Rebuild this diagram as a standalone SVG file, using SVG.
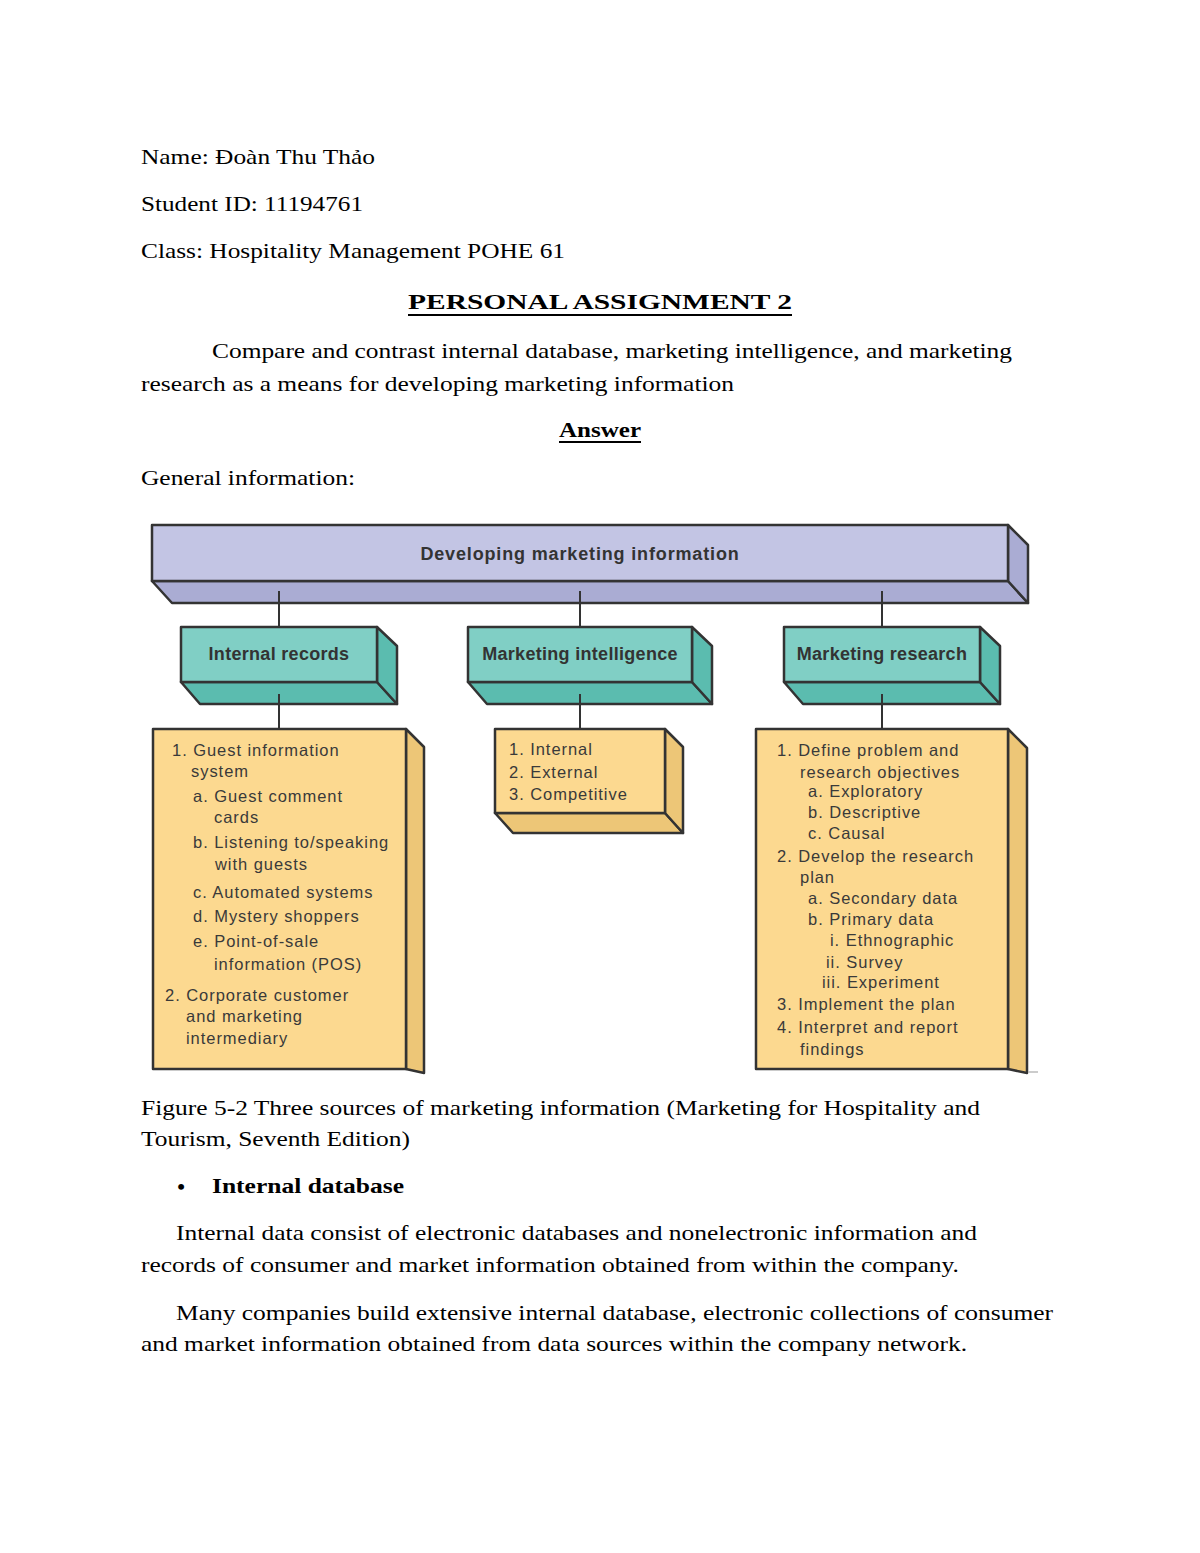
<svg xmlns="http://www.w3.org/2000/svg" width="1200" height="1553" viewBox="0 0 1200 1553">
<style>
.doc{font-family:"Liberation Serif","Times New Roman",serif;font-size:22px;fill:#000}
.docb{font-family:"Liberation Serif","Times New Roman",serif;font-size:22px;font-weight:bold;fill:#000}
.edge{stroke:#333;stroke-width:2.5;stroke-linejoin:round}
.pf{fill:#c3c5e4}.ps{fill:#aaacd3}
.tf{fill:#80cfc5}.ts{fill:#5bbcaf}
.yf{fill:#fcd990}.ys{fill:#edc677}
.hd{font-family:"Liberation Sans",Arial,sans-serif;font-size:18px;font-weight:bold;fill:#333;text-anchor:middle}
.t{font-family:"Liberation Sans",Arial,sans-serif;font-size:16.5px;letter-spacing:0.95px;fill:#3a3a3a}
.conn{stroke:#333;stroke-width:2;fill:none}
</style>
<rect width="1200" height="1553" fill="#fff"/>

<g id="header-text">
<text class="doc" x="141" y="164" textLength="234" lengthAdjust="spacingAndGlyphs">Name: Đoàn Thu Thảo</text>
<text class="doc" x="141" y="211" textLength="222" lengthAdjust="spacingAndGlyphs">Student ID: 11194761</text>
<text class="doc" x="141" y="258" textLength="424" lengthAdjust="spacingAndGlyphs">Class: Hospitality Management POHE 61</text>
<text class="docb" x="408" y="309" textLength="384" lengthAdjust="spacingAndGlyphs">PERSONAL ASSIGNMENT 2</text>
<line x1="408" y1="315" x2="792" y2="315" stroke="#000" stroke-width="1.8"/>
<text class="doc" x="212" y="358" textLength="800" lengthAdjust="spacingAndGlyphs">Compare and contrast internal database, marketing intelligence, and marketing</text>
<text class="doc" x="141" y="391" textLength="593" lengthAdjust="spacingAndGlyphs">research as a means for developing marketing information</text>
<text class="docb" x="559" y="437" textLength="82" lengthAdjust="spacingAndGlyphs">Answer</text>
<line x1="559" y1="442" x2="641" y2="442" stroke="#000" stroke-width="1.8"/>
<text class="doc" x="141" y="485" textLength="214" lengthAdjust="spacingAndGlyphs">General information:</text>
</g>

<g id="connectors">
<line class="conn" x1="279" y1="591" x2="279" y2="627"/>
<line class="conn" x1="580" y1="591" x2="580" y2="627"/>
<line class="conn" x1="882" y1="591" x2="882" y2="627"/>
<line class="conn" x1="279" y1="694" x2="279" y2="729"/>
<line class="conn" x1="580" y1="694" x2="580" y2="729"/>
<line class="conn" x1="882" y1="694" x2="882" y2="729"/>
</g>

<g id="node-developing">
<polygon class="ps edge" points="152,581 1008,581 1028,603 172,603"/>
<polygon class="ps edge" points="1008,525 1028,545 1028,603 1008,581"/>
<rect class="pf edge" x="152" y="525" width="856" height="56"/>
<line class="conn" x1="279" y1="591" x2="279" y2="603"/>
<line class="conn" x1="580" y1="591" x2="580" y2="603"/>
<line class="conn" x1="882" y1="591" x2="882" y2="603"/>
<text class="hd" x="580" y="560" letter-spacing="0.85">Developing marketing information</text>
</g>

<g id="node-internal-records">
<polygon class="ts edge" points="181,682 377,682 397,704 200,704"/>
<polygon class="ts edge" points="377,627 397,646 397,704 377,682"/>
<rect class="tf edge" x="181" y="627" width="196" height="55"/>
<line class="conn" x1="279" y1="694" x2="279" y2="704"/>
<text class="hd" x="279" y="660" letter-spacing="0.3">Internal records</text>
</g>

<g id="node-marketing-intelligence">
<polygon class="ts edge" points="468,682 692,682 712,704 487,704"/>
<polygon class="ts edge" points="692,627 712,646 712,704 692,682"/>
<rect class="tf edge" x="468" y="627" width="224" height="55"/>
<line class="conn" x1="580" y1="694" x2="580" y2="704"/>
<text class="hd" x="580" y="660" letter-spacing="0.3">Marketing intelligence</text>
</g>

<g id="node-marketing-research">
<polygon class="ts edge" points="784,682 980,682 1000,704 803,704"/>
<polygon class="ts edge" points="980,627 1000,646 1000,704 980,682"/>
<rect class="tf edge" x="784" y="627" width="196" height="55"/>
<line class="conn" x1="882" y1="694" x2="882" y2="704"/>
<text class="hd" x="882" y="660" letter-spacing="0.3">Marketing research</text>
</g>

<g id="node-internal-list">
<polygon class="ys edge" points="406,729 424,747 424,1073 406,1069"/>
<rect class="yf edge" x="153" y="729" width="253" height="340"/>
<text class="t" x="172" y="756">1. Guest information</text>
<text class="t" x="191" y="777">system</text>
<text class="t" x="193" y="802">a. Guest comment</text>
<text class="t" x="214" y="823">cards</text>
<text class="t" x="193" y="848">b. Listening to/speaking</text>
<text class="t" x="215" y="870">with guests</text>
<text class="t" x="193" y="898">c. Automated systems</text>
<text class="t" x="193" y="922">d. Mystery shoppers</text>
<text class="t" x="193" y="947">e. Point-of-sale</text>
<text class="t" x="214" y="970">information (POS)</text>
<text class="t" x="165" y="1001">2. Corporate customer</text>
<text class="t" x="186" y="1022">and marketing</text>
<text class="t" x="186" y="1044">intermediary</text>
</g>

<g id="node-intelligence-list">
<polygon class="ys edge" points="495,813 665,813 683,833 513,833"/>
<polygon class="ys edge" points="665,729 683,747 683,833 665,813"/>
<rect class="yf edge" x="495" y="729" width="170" height="84"/>
<text class="t" x="509" y="755">1. Internal</text>
<text class="t" x="509" y="778">2. External</text>
<text class="t" x="509" y="800">3. Competitive</text>
</g>

<g id="node-research-list">
<polygon class="ys edge" points="1008,729 1027,748 1027,1073 1008,1069"/>
<rect class="yf edge" x="756" y="729" width="252" height="340"/>
<line x1="1028" y1="1072" x2="1038" y2="1072" stroke="#bbb" stroke-width="1.5"/>
<text class="t" x="777" y="756">1. Define problem and</text>
<text class="t" x="800" y="778">research objectives</text>
<text class="t" x="808" y="797">a. Exploratory</text>
<text class="t" x="808" y="818">b. Descriptive</text>
<text class="t" x="808" y="839">c. Causal</text>
<text class="t" x="777" y="862">2. Develop the research</text>
<text class="t" x="800" y="883">plan</text>
<text class="t" x="808" y="904">a. Secondary data</text>
<text class="t" x="808" y="925">b. Primary data</text>
<text class="t" x="830" y="946">i. Ethnographic</text>
<text class="t" x="826" y="968">ii. Survey</text>
<text class="t" x="822" y="988">iii. Experiment</text>
<text class="t" x="777" y="1010">3. Implement the plan</text>
<text class="t" x="777" y="1033">4. Interpret and report</text>
<text class="t" x="800" y="1055">findings</text>
</g>

<g id="body-text">
<text class="doc" x="141" y="1115" textLength="839" lengthAdjust="spacingAndGlyphs">Figure 5-2 Three sources of marketing information (Marketing for Hospitality and</text>
<text class="doc" x="141" y="1146" textLength="269" lengthAdjust="spacingAndGlyphs">Tourism, Seventh Edition)</text>
<text class="docb" x="181" y="1194" font-size="38" text-anchor="middle">•</text>
<text class="docb" x="212" y="1193" textLength="192" lengthAdjust="spacingAndGlyphs">Internal database</text>
<text class="doc" x="176" y="1240" textLength="801" lengthAdjust="spacingAndGlyphs">Internal data consist of electronic databases and nonelectronic information and</text>
<text class="doc" x="141" y="1272" textLength="818" lengthAdjust="spacingAndGlyphs">records of consumer and market information obtained from within the company.</text>
<text class="doc" x="176" y="1320" textLength="877" lengthAdjust="spacingAndGlyphs">Many companies build extensive internal database, electronic collections of consumer</text>
<text class="doc" x="141" y="1351" textLength="826" lengthAdjust="spacingAndGlyphs">and market information obtained from data sources within the company network.</text>
</g>
</svg>
